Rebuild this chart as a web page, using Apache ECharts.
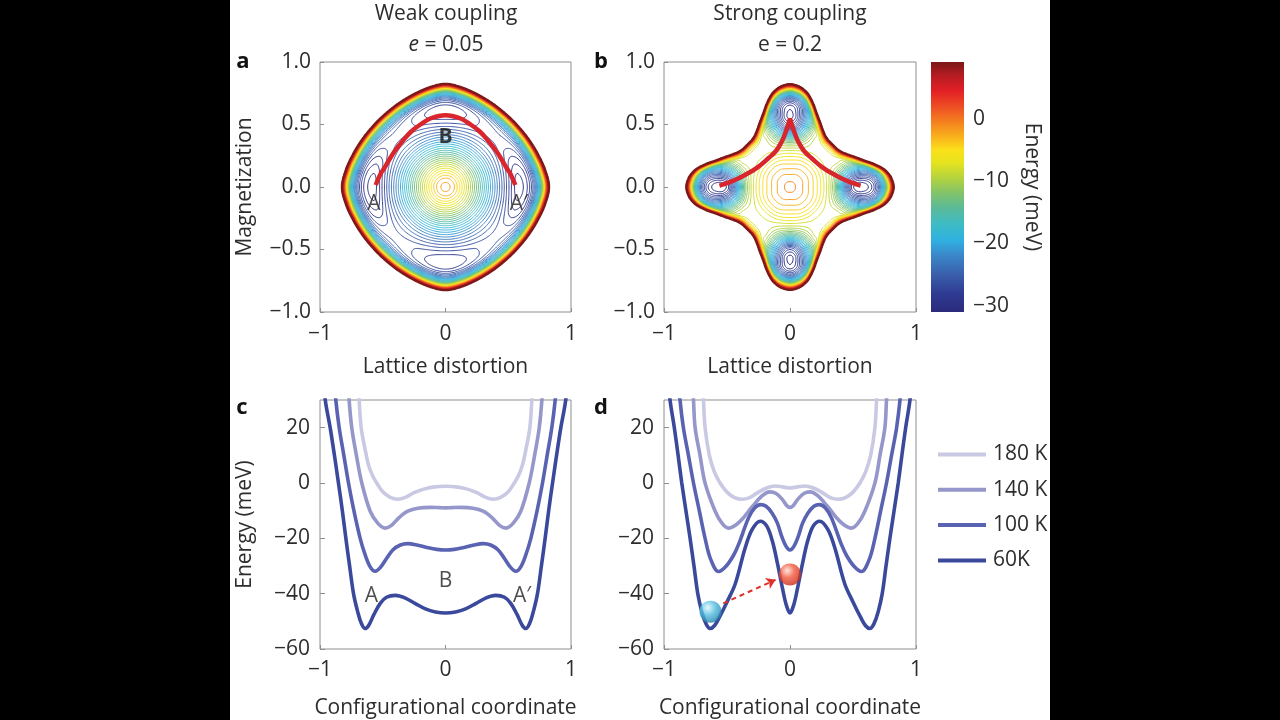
<!DOCTYPE html>
<html><head><meta charset="utf-8">
<script src="https://cdn.jsdelivr.net/npm/echarts@6/dist/echarts.min.js"></script>
<style>
html,body{margin:0;padding:0;background:#000;}
#wrap{position:relative;width:1280px;height:720px;background:#000;overflow:hidden;}
#paper{position:absolute;left:230px;top:0;width:820px;height:720px;background:#fff;}
#chart{position:absolute;left:0;top:0;width:1280px;height:720px;}
</style></head><body>
<div id="wrap"><div id="paper"></div><div id="chart"></div></div>
<script>
// ---------------- DATA ----------------
// colour scale (Energy, meV)
const cmapValues = [-31, -28, -25, -22, -19.5, -17, -14.5, -12, -9.5, -7, -5, -3, -0.5, 2, 4.5, 7, 9.1];
const cmapColors = ['#2b2a7c','#2f3b92','#3a5fab','#3b86c8','#2fb0e0','#3dbcc6','#58ba9c','#80c36c','#b5d33e','#e6e41e','#fbe01a','#f9b31b','#f4801f','#ee4d24','#e21f26','#b41c22','#7a1818'];
const colorbarMin = -31, colorbarMax = 9.1;
const colorbarTicks = [-30, -20, -10, 0];
const contourLevels = [-30,-29,-28,-27,-26,-25,-24,-23,-22,-21,-20,-19,-18,-17,-16,-15,-14,-13,-12,-11,-10,-9,-8,-7,-6,-5,-4,-3,-2,-1,0,1,2,3,4,5,6,7,8,9];
// energy on the outer edge of both maps, and how the energy blends into it (relative radius -> weight)
const edgeEnergy = 9.3, edgeSlope = 150;
const edgeBlendS = [0.78, 0.84, 0.9, 0.95, 1.0];
const edgeBlendG = [0, 0.08, 0.3, 0.62, 1];

// Panel a (weak coupling): outer edge radius vs angle from nearest axis (deg)
const aEdgeAngles = [0, 10, 20, 30, 40, 45];
const aEdgeRadius = [0.827, 0.807, 0.783, 0.767, 0.758, 0.757];
// energy along lattice-distortion axis (through A, A')
const aAxisQr = [0, 0.05, 0.1, 0.15, 0.2, 0.25, 0.3, 0.35, 0.4, 0.45, 0.5, 0.55, 0.58, 0.62, 0.67, 0.72, 0.78, 0.85, 1.0, 1.5];
const aAxisQe = [-1.5, -2.3, -4.3, -7, -10, -13.2, -16.4, -19.5, -22.3, -25, -27.7, -30, -30.6, -30, -28.3, -26, -23, -20, -15, 0];
// energy along magnetization axis (through B)
const aAxisMr = [0, 0.05, 0.1, 0.15, 0.2, 0.25, 0.3, 0.35, 0.4, 0.45, 0.5, 0.55, 0.6, 0.65, 0.7, 0.76, 0.85, 1.0, 1.5];
const aAxisMe = [-1.5, -2.3, -4.3, -7, -10, -13.2, -16.4, -19.3, -22, -24.5, -26.6, -28.2, -28.8, -28.2, -26.5, -24, -20, -15, 0];
// energy along the diagonal
const aDiagR = [0, 0.05, 0.1, 0.15, 0.2, 0.25, 0.3, 0.35, 0.4, 0.45, 0.5, 0.55, 0.6, 0.65, 0.7, 0.8, 1.0, 1.5];
const aDiagE = [-1.5, -2.3, -4.3, -7, -10, -13.2, -16.4, -19.3, -22, -24, -25.5, -26.3, -26, -25, -23.5, -20, -15, 0];
const aWeightPower = 2;

// Panel b (strong coupling)
const bEdgeAngles = [0, 5, 10, 15, 20, 25, 30, 35, 40, 45];
const bEdgeRadius = [0.825, 0.81, 0.77, 0.70, 0.625, 0.57, 0.525, 0.495, 0.482, 0.48];
const bAxisQr = [0, 0.05, 0.1, 0.15, 0.2, 0.25, 0.3, 0.35, 0.4, 0.45, 0.5, 0.55, 0.6, 0.65, 0.7, 0.78, 0.9, 1.2];
const bAxisQe = [-0.6, -1.1, -2, -3.1, -4.5, -6.2, -8.5, -12, -18, -25, -29.8, -31, -30.5, -29, -26.5, -22, -15, 0];
const bAxisMr = [0, 0.05, 0.1, 0.15, 0.2, 0.25, 0.3, 0.35, 0.4, 0.45, 0.5, 0.57, 0.62, 0.67, 0.72, 0.8, 0.9, 1.2];
const bAxisMe = [-0.6, -1.1, -2, -3.1, -4.5, -6.2, -8.4, -11.5, -16.8, -23, -28, -30.4, -30, -28.5, -26, -21.5, -15, 0];
const bDiagR = [0, 0.05, 0.1, 0.15, 0.2, 0.25, 0.3, 0.35, 0.42, 0.5, 0.6, 1.2];
const bDiagE = [-0.6, -1.05, -1.8, -2.8, -4, -5.8, -7.6, -8.2, -7.4, -5.5, -4, 0];
const bWeightPower = 4;

// red minimum-energy paths
const pathA = [[-0.556,0.016],[-0.52,0.1],[-0.488,0.15],[-0.45,0.215],[-0.408,0.282],[-0.34,0.37],[-0.275,0.442],[-0.2,0.5],[-0.116,0.55],[0,0.575],[0.116,0.55],[0.2,0.5],[0.275,0.442],[0.34,0.37],[0.408,0.282],[0.45,0.215],[0.488,0.15],[0.52,0.1],[0.556,0.016]];
const pathBLeft = [[-0.56,0.01],[-0.542,0.016],[-0.45,0.05],[-0.357,0.096],[-0.26,0.155],[-0.172,0.23],[-0.11,0.29],[-0.066,0.362],[-0.045,0.41],[-0.02,0.48],[0,0.55]];
const pathBRight = [[0,0.55],[0.02,0.48],[0.045,0.41],[0.066,0.362],[0.11,0.29],[0.172,0.23],[0.26,0.155],[0.357,0.096],[0.45,0.05],[0.542,0.016],[0.56,0.01]];

const labelsATexts = ['A', 'A\u2032', 'B'];
const labelsAPos = [[-0.57,-0.14],[0.585,-0.14],[0,0.396]];
const labelsCTexts = ['A', 'B', 'A\u2032'];
const labelsCPos = [[-0.59,-40.7],[0,-35.5],[0.61,-40.7]];

// Energy profiles (meV) along configurational coordinate
const seriesNames = ['180 K', '140 K', '100 K', '60K'];
const curveColors = ['#c9c9e3', '#9596ca', '#5a63b2', '#3a499b'];
const c180 = [[-0.70,40],[-0.688,30],[-0.672,20],[-0.64,12],[-0.614,6.6],[-0.58,2.5],[-0.548,0],[-0.50,-3.2],[-0.44,-5.2],[-0.38,-5.9],[-0.32,-5.2],[-0.25,-3.5],[-0.18,-2.3],[-0.10,-1.5],[0,-1.2],[0.10,-1.5],[0.18,-2.3],[0.25,-3.5],[0.32,-5.2],[0.38,-5.9],[0.44,-5.2],[0.50,-3.2],[0.548,0],[0.58,2.5],[0.614,6.6],[0.64,12],[0.672,20],[0.688,30],[0.70,40]];
const c140 = [[-0.78,40],[-0.768,30],[-0.747,20],[-0.71,10],[-0.667,0],[-0.60,-10.2],[-0.54,-14.5],[-0.48,-16.3],[-0.43,-15.3],[-0.37,-12.5],[-0.30,-10.2],[-0.22,-9.1],[-0.12,-8.8],[-0.05,-8.9],[0,-9],[0.05,-8.9],[0.12,-8.8],[0.22,-9.1],[0.30,-10.2],[0.37,-12.5],[0.43,-15.3],[0.48,-16.3],[0.54,-14.5],[0.60,-10.2],[0.667,0],[0.71,10],[0.747,20],[0.768,30],[0.78,40]];
const c100 = [[-0.89,40],[-0.874,30],[-0.847,20],[-0.81,10],[-0.773,0],[-0.73,-10],[-0.68,-20],[-0.64,-26],[-0.60,-30.3],[-0.561,-31.9],[-0.52,-30.6],[-0.47,-27.3],[-0.42,-24.2],[-0.36,-22.4],[-0.30,-21.9],[-0.22,-22.5],[-0.14,-23.4],[-0.07,-24],[0,-24.2],[0.07,-24],[0.14,-23.4],[0.22,-22.5],[0.30,-21.9],[0.36,-22.4],[0.42,-24.2],[0.47,-27.3],[0.52,-30.6],[0.561,-31.9],[0.60,-30.3],[0.64,-26],[0.68,-20],[0.73,-10],[0.773,0],[0.81,10],[0.847,20],[0.874,30],[0.89,40]];
const c60 = [[-0.975,40],[-0.958,30],[-0.919,20],[-0.885,10],[-0.853,0],[-0.822,-10],[-0.794,-20],[-0.764,-30],[-0.733,-40],[-0.70,-46.5],[-0.67,-50.8],[-0.64,-52.6],[-0.61,-51.3],[-0.57,-47.5],[-0.52,-43.5],[-0.47,-41.3],[-0.40,-40.6],[-0.32,-41.6],[-0.24,-43.6],[-0.16,-45.5],[-0.08,-46.6],[0,-47],[0.08,-46.6],[0.16,-45.5],[0.24,-43.6],[0.32,-41.6],[0.40,-40.6],[0.47,-41.3],[0.52,-43.5],[0.57,-47.5],[0.61,-51.3],[0.64,-52.6],[0.67,-50.8],[0.70,-46.5],[0.733,-40],[0.764,-30],[0.794,-20],[0.822,-10],[0.853,0],[0.885,10],[0.919,20],[0.958,30],[0.975,40]];
const d180 = [[-0.70,40],[-0.687,30],[-0.674,20],[-0.64,10],[-0.60,4],[-0.555,0],[-0.50,-3.3],[-0.44,-5.3],[-0.38,-5.9],[-0.32,-5.3],[-0.25,-3.3],[-0.18,-1.7],[-0.12,-1.1],[-0.06,-1.4],[0,-1.8],[0.06,-1.4],[0.12,-1.1],[0.18,-1.7],[0.25,-3.3],[0.32,-5.3],[0.38,-5.9],[0.44,-5.3],[0.50,-3.3],[0.555,0],[0.60,4],[0.64,10],[0.674,20],[0.687,30],[0.70,40]];
const d140 = [[-0.78,40],[-0.766,30],[-0.753,20],[-0.714,10],[-0.674,0],[-0.594,-10.2],[-0.54,-14.5],[-0.488,-16.3],[-0.43,-15.2],[-0.37,-12.6],[-0.30,-8.6],[-0.22,-4.6],[-0.16,-3.2],[-0.11,-3.8],[-0.06,-6],[-0.025,-8.2],[0,-8.8],[0.025,-8.2],[0.06,-6],[0.11,-3.8],[0.16,-3.2],[0.22,-4.6],[0.30,-8.6],[0.37,-12.6],[0.43,-15.2],[0.488,-16.3],[0.54,-14.5],[0.594,-10.2],[0.674,0],[0.714,10],[0.753,20],[0.766,30],[0.78,40]];
const d100 = [[-0.89,40],[-0.873,30],[-0.846,20],[-0.806,10],[-0.766,0],[-0.72,-10],[-0.674,-20],[-0.63,-27.5],[-0.567,-32],[-0.51,-30.2],[-0.45,-26.3],[-0.408,-22.2],[-0.329,-12.6],[-0.28,-9],[-0.235,-7.8],[-0.19,-8.4],[-0.143,-10.8],[-0.10,-14.5],[-0.064,-19.5],[-0.03,-23],[0,-24.2],[0.03,-23],[0.064,-19.5],[0.10,-14.5],[0.143,-10.8],[0.19,-8.4],[0.235,-7.8],[0.28,-9],[0.329,-12.6],[0.408,-22.2],[0.45,-26.3],[0.51,-30.2],[0.567,-32],[0.63,-27.5],[0.674,-20],[0.72,-10],[0.766,0],[0.806,10],[0.846,20],[0.873,30],[0.89,40]];
const d60 = [[-0.97,40],[-0.952,30],[-0.918,20],[-0.888,10],[-0.859,0],[-0.826,-10],[-0.793,-20],[-0.762,-30],[-0.732,-40],[-0.70,-46.5],[-0.665,-51],[-0.634,-52.6],[-0.60,-51.6],[-0.56,-48.5],[-0.50,-43],[-0.435,-36.5],[-0.356,-23.5],[-0.30,-16.8],[-0.236,-13.8],[-0.185,-15.5],[-0.14,-21],[-0.10,-29],[-0.06,-38],[-0.03,-44],[0,-47],[0.03,-44],[0.06,-38],[0.10,-29],[0.14,-21],[0.185,-15.5],[0.236,-13.8],[0.30,-16.8],[0.356,-23.5],[0.435,-36.5],[0.50,-43],[0.56,-48.5],[0.60,-51.6],[0.634,-52.6],[0.665,-51],[0.70,-46.5],[0.732,-40],[0.762,-30],[0.793,-20],[0.826,-10],[0.859,0],[0.888,10],[0.918,20],[0.952,30],[0.97,40]];

const ballBlue = [-0.631, -46.5];
const ballRed = [0, -33.1];
const arrowCoords = [[-0.53, -43.5], [-0.115, -35]];

// ---------------- HELPERS ----------------
const FONT = "'Open Sans', 'Noto Sans', sans-serif";
const TXT = '#2d2d2d';
const FRAME = '#8e8e8e';

function hex2rgb(h){ return [parseInt(h.substr(1,2),16), parseInt(h.substr(3,2),16), parseInt(h.substr(5,2),16)]; }
function colorAt(v){
  if (v <= cmapValues[0]) return cmapColors[0];
  const n = cmapValues.length;
  if (v >= cmapValues[n-1]) return cmapColors[n-1];
  let i = 0; while (cmapValues[i+1] < v) i++;
  const t = (v - cmapValues[i]) / (cmapValues[i+1] - cmapValues[i]);
  const a = hex2rgb(cmapColors[i]), b = hex2rgb(cmapColors[i+1]);
  return 'rgb(' + a.map((x,k)=>Math.round(x + (b[k]-x)*t)).join(',') + ')';
}
function monotone(xs, ys, flatEnd){
  const n = xs.length, d = [], m = [];
  for (let i=0;i<n-1;i++) d.push((ys[i+1]-ys[i])/(xs[i+1]-xs[i]));
  m[0] = 0; m[n-1] = flatEnd ? 0 : d[n-2];
  for (let i=1;i<n-1;i++){
    if (d[i-1]*d[i] <= 0) m[i] = 0;
    else { const h0=xs[i]-xs[i-1], h1=xs[i+1]-xs[i]; const w1=2*h1+h0, w2=h1+2*h0; m[i]=(w1+w2)/(w1/d[i-1]+w2/d[i]); }
  }
  return function(x){
    if (x <= xs[0]) return ys[0];
    if (x >= xs[n-1]) return flatEnd ? ys[n-1] : ys[n-1] + d[n-2]*(x-xs[n-1]);
    let lo=0, hi=n-1; while (hi-lo>1){ const mid=(lo+hi)>>1; if (xs[mid]<=x) lo=mid; else hi=mid; }
    const h=xs[hi]-xs[lo], t=(x-xs[lo])/h, t2=t*t, t3=t2*t;
    return (2*t3-3*t2+1)*ys[lo] + (t3-2*t2+t)*h*m[lo] + (-2*t3+3*t2)*ys[hi] + (t3-t2)*h*m[hi];
  };
}
const edgeBlend = monotone(edgeBlendS, edgeBlendG, true);
function buildField(edgeA, edgeR, qr, qe, mr, me, dr, de, pw){
  const edge = monotone(edgeA, edgeR, true);
  const fq = monotone(qr, qe), fm = monotone(mr, me), fd = monotone(dr, de);
  const n = 241, lo = -0.9, hi = 0.9, xs = [];
  for (let i=0;i<n;i++) xs.push(lo + (hi-lo)*i/(n-1));
  const V = new Float64Array(n*n);
  for (let j=0;j<n;j++) for (let i=0;i<n;i++){
    const q = xs[i], m = xs[j], r = Math.hypot(q, m);
    const th = Math.atan2(Math.abs(m), Math.abs(q));
    const phi = Math.min(th, Math.PI/2 - th) * 180 / Math.PI;
    const s = r / edge(phi);
    const c = Math.cos(2*th), w = Math.pow(Math.abs(c), pw);
    const ed = fd(r);
    const inner = c >= 0 ? ed + (fq(r) - ed)*w : ed + (fm(r) - ed)*w;
    const g = Math.min(1, Math.max(0, edgeBlend(s)));
    const outer = edgeEnergy + edgeSlope*(s - 1);
    V[j*n+i] = inner + (outer - inner)*g;
  }
  return {xs, V, n};
}
function contourData(field){
  const {xs, V, n} = field; const K = n*n*2;
  const PX = new Float64Array(K), PY = new Float64Array(K), A1 = new Int32Array(K), A2 = new Int32Array(K);
  const out = [];
  for (const L of contourLevels){
    A1.fill(-1); A2.fill(-1);
    const segs = [];
    const link = (k,s)=>{ if (A1[k]<0) A1[k]=s; else A2[k]=s; };
    const add = (k1,k2)=>{ const s = segs.length>>1; segs.push(k1,k2); link(k1,s); link(k2,s); };
    for (let j=0;j<n-1;j++) for (let i=0;i<n-1;i++){
      const a=V[j*n+i], b=V[j*n+i+1], c=V[(j+1)*n+i+1], d=V[(j+1)*n+i];
      const idx=(a>L?1:0)|(b>L?2:0)|(c>L?4:0)|(d>L?8:0);
      if (idx===0 || idx===15) continue;
      const x0=xs[i], x1=xs[i+1], y0=xs[j], y1=xs[j+1];
      const kB=(j*n+i)*2, kT=((j+1)*n+i)*2, kL=(j*n+i)*2+1, kR=(j*n+i+1)*2+1;
      if ((a>L)!==(b>L)){ PX[kB]=x0+(L-a)/(b-a)*(x1-x0); PY[kB]=y0; }
      if ((d>L)!==(c>L)){ PX[kT]=x0+(L-d)/(c-d)*(x1-x0); PY[kT]=y1; }
      if ((a>L)!==(d>L)){ PX[kL]=x0; PY[kL]=y0+(L-a)/(d-a)*(y1-y0); }
      if ((b>L)!==(c>L)){ PX[kR]=x1; PY[kR]=y0+(L-b)/(c-b)*(y1-y0); }
      switch(idx){
        case 1: case 14: add(kL,kB); break;
        case 2: case 13: add(kB,kR); break;
        case 3: case 12: add(kL,kR); break;
        case 4: case 11: add(kR,kT); break;
        case 6: case 9: add(kB,kT); break;
        case 7: case 8: add(kL,kT); break;
        case 5: { const ct=(a+b+c+d)/4; if (ct>L){ add(kL,kT); add(kB,kR); } else { add(kL,kB); add(kR,kT); } break; }
        case 10: { const ct=(a+b+c+d)/4; if (ct>L){ add(kL,kB); add(kR,kT); } else { add(kB,kR); add(kL,kT); } break; }
      }
    }
    const nS = segs.length>>1, used = new Uint8Array(nS);
    const col = colorAt(L);
    const wid = L >= 9 ? 2.2 : (L >= 7 ? 1.5 : 1);
    for (let s0=0;s0<nS;s0++){
      if (used[s0]) continue; used[s0]=1;
      const fwd=[segs[2*s0], segs[2*s0+1]];
      let key=segs[2*s0+1], s=s0;
      for(;;){ const ns = A1[key]===s ? A2[key] : A1[key]; if (ns<0 || used[ns]) break; used[ns]=1; key = segs[2*ns]===key ? segs[2*ns+1] : segs[2*ns]; fwd.push(key); s=ns; }
      const back=[]; key=segs[2*s0]; s=s0;
      for(;;){ const ns = A1[key]===s ? A2[key] : A1[key]; if (ns<0 || used[ns]) break; used[ns]=1; key = segs[2*ns]===key ? segs[2*ns+1] : segs[2*ns]; back.push(key); s=ns; }
      const keys = back.reverse().concat(fwd);
      out.push({coords: keys.map(k=>[PX[k], PY[k]]), lineStyle: {color: col, width: wid}});
    }
  }
  return out;
}

const fieldA = buildField(aEdgeAngles, aEdgeRadius, aAxisQr, aAxisQe, aAxisMr, aAxisMe, aDiagR, aDiagE, aWeightPower);
const fieldB = buildField(bEdgeAngles, bEdgeRadius, bAxisQr, bAxisQe, bAxisMr, bAxisMe, bDiagR, bDiagE, bWeightPower);
const contoursA = contourData(fieldA);
const contoursB = contourData(fieldB);

const minus = v => (v < 0 ? '\u2212' : '') + Math.abs(v);
const lbl = {fontFamily: FONT, fontSize: 21, color: TXT};
function xAx(gi, name, gap, margin){
  return {gridIndex: gi, type:'value', min:-1, max:1, interval:1,
    axisLine:{show:false, onZero:false}, splitLine:{show:false},
    axisTick:{show:true, inside:true, length:4, lineStyle:{color:FRAME}},
    axisLabel:Object.assign({margin:margin, formatter: minus}, lbl),
    name: name, nameLocation:'middle', nameGap: gap, nameTextStyle: lbl};
}
function yAxAB(gi, name){
  return {gridIndex: gi, type:'value', min:-1, max:1, interval:0.5,
    axisLine:{show:false, onZero:false}, splitLine:{show:false},
    axisTick:{show:true, inside:true, length:4, lineStyle:{color:FRAME}},
    axisLabel:Object.assign({margin:9, formatter: v => (v<0?'\u2212':'') + Math.abs(v).toFixed(1)}, lbl),
    name: name, nameLocation:'middle', nameGap: 64, nameRotate: 90, nameTextStyle: lbl};
}
function yAxCD(gi, name){
  return {gridIndex: gi, type:'value', min:-60, max:30,
    axisLine:{show:false, onZero:false}, splitLine:{show:false},
    axisTick:{show:true, inside:true, length:5, lineStyle:{color:FRAME}, customValues:[-60,-40,-20,0,20]},
    axisLabel:Object.assign({margin:10, formatter: minus, customValues:[-60,-40,-20,0,20]}, lbl),
    name: name, nameLocation:'middle', nameGap: 64, nameRotate: 90, nameTextStyle: lbl};
}
const gridStyle = {show:true, borderColor:FRAME, borderWidth:1, backgroundColor:'transparent'};

const cbStops = cmapValues.map((v,i)=>({offset:(colorbarMax - v)/(colorbarMax - colorbarMin), color:cmapColors[i]})).reverse();

const curveSets = [[c180, c140, c100, c60], [d180, d140, d100, d60]];
const curveSeries = [];
curveSets.forEach((set, k)=>{
  set.forEach((data, i)=>{
    curveSeries.push({type:'line', name: seriesNames[i], xAxisIndex: 3+k, yAxisIndex: 3+k, data: data,
      smooth: 0.35, symbol:'none', clip:true, z: 3+i,
      lineStyle:{color: curveColors[i], width: 3.6}, itemStyle:{color: curveColors[i]}});
  });
});

function textSeries(xi, texts, pos, size){
  return {type:'scatter', xAxisIndex:xi, yAxisIndex:xi, symbolSize:0, silent:true, z:8,
    data: texts.map((t,i)=>({name:t, value:pos[i], label:{fontWeight: t==='B' && xi===0 ? 'bold':'normal', color: t==='B' && xi===0 ? '#111' : '#222'}})),
    label:{show:true, position:'inside', formatter:'{b}', fontFamily:FONT, fontSize:size, color:'#222'}};
}
function ball(c0, c1, c2){
  return {type:'radial', x:0.38, y:0.32, r:0.72, colorStops:[{offset:0,color:c0},{offset:0.45,color:c1},{offset:1,color:c2}]};
}

const option = {
  animation:false,
  textStyle:{fontFamily:FONT},
  grid:[
    Object.assign({left:320, top:62, width:251, height:250}, gridStyle),
    Object.assign({left:664, top:62, width:252, height:250}, gridStyle),
    {left:931, top:62, width:33, height:250, show:false},
    Object.assign({left:320, top:400, width:251, height:249}, gridStyle),
    Object.assign({left:664, top:400, width:252, height:249}, gridStyle)
  ],
  xAxis:[
    xAx(0, 'Lattice distortion', 45, 12),
    xAx(1, 'Lattice distortion', 45, 12),
    {gridIndex:2, type:'value', min:0, max:1, show:false},
    xAx(3, 'Configurational coordinate', 49, 11),
    xAx(4, 'Configurational coordinate', 49, 11)
  ],
  yAxis:[
    yAxAB(0, 'Magnetization'),
    yAxAB(1, ''),
    {gridIndex:2, type:'value', position:'right', min:colorbarMin, max:colorbarMax,
      axisLine:{show:false, onZero:false}, splitLine:{show:false},
      axisTick:{show:true, inside:true, length:5, lineStyle:{color:'#333'}, customValues: colorbarTicks},
      axisLabel:Object.assign({margin:9, formatter: minus, customValues: colorbarTicks}, lbl),
      name:'Energy (meV)', nameLocation:'middle', nameGap:57, nameRotate:-90, nameTextStyle: lbl},
    yAxCD(3, 'Energy (meV)'),
    yAxCD(4, '')
  ],
  legend:{data: seriesNames, orient:'vertical', left:933, top:439, itemWidth:48, itemHeight:4, itemGap:14.3,
    icon:'rect', selectedMode:false,
    textStyle:{fontFamily:FONT, fontSize:21, color:TXT, lineHeight:21, padding:[0,0,0,2]}},
  graphic:[
    {type:'text', x:446, y:14, style:{text:'Weak coupling', font:"21px 'Open Sans'", fill:TXT, textAlign:'center', textVerticalAlign:'middle'}},
    {type:'text', x:446, y:45, style:{text:'{i|e} = 0.05', font:"21px 'Open Sans'", fill:TXT, textAlign:'center', textVerticalAlign:'middle', rich:{i:{fontStyle:'italic', fontSize:21, fontFamily:FONT, fill:TXT}}}},
    {type:'text', x:790, y:14, style:{text:'Strong coupling', font:"21px 'Open Sans'", fill:TXT, textAlign:'center', textVerticalAlign:'middle'}},
    {type:'text', x:790, y:45, style:{text:'e = 0.2', font:"21px 'Open Sans'", fill:TXT, textAlign:'center', textVerticalAlign:'middle'}},
    {type:'text', x:243, y:62, style:{text:'a', font:"bold 22px 'Open Sans'", fill:'#111', textAlign:'center', textVerticalAlign:'middle'}},
    {type:'text', x:601, y:62, style:{text:'b', font:"bold 22px 'Open Sans'", fill:'#111', textAlign:'center', textVerticalAlign:'middle'}},
    {type:'text', x:242, y:408, style:{text:'c', font:"bold 22px 'Open Sans'", fill:'#111', textAlign:'center', textVerticalAlign:'middle'}},
    {type:'text', x:601, y:408, style:{text:'d', font:"bold 22px 'Open Sans'", fill:'#111', textAlign:'center', textVerticalAlign:'middle'}}
  ],
  series:[
    {type:'lines', coordinateSystem:'cartesian2d', xAxisIndex:0, yAxisIndex:0, polyline:true, silent:true, z:2,
      lineStyle:{width:1, opacity:1}, data: contoursA},
    {type:'lines', coordinateSystem:'cartesian2d', xAxisIndex:1, yAxisIndex:1, polyline:true, silent:true, z:2,
      lineStyle:{width:1, opacity:1}, data: contoursB},
    {type:'custom', xAxisIndex:2, yAxisIndex:2, silent:true, data:[[0, colorbarMin, colorbarMax]],
      renderItem:(params, api)=>{
        const p0 = api.coord([0, api.value(2)]), p1 = api.coord([1, api.value(1)]);
        return {type:'rect', shape:{x:p0[0], y:p0[1], width:p1[0]-p0[0], height:p1[1]-p0[1]},
          style:{fill:{type:'linear', x:0, y:0, x2:0, y2:1, colorStops: cbStops}}};
      }},
    {type:'line', xAxisIndex:0, yAxisIndex:0, data: pathA, smooth:0.4, symbol:'none', z:6, silent:true,
      lineStyle:{color:'#d8262c', width:4.5}},
    {type:'line', xAxisIndex:1, yAxisIndex:1, data: pathBLeft, smooth:0.4, symbol:'none', z:6, silent:true,
      lineStyle:{color:'#d8262c', width:4.5}},
    {type:'line', xAxisIndex:1, yAxisIndex:1, data: pathBRight, smooth:0.4, symbol:'none', z:6, silent:true,
      lineStyle:{color:'#d8262c', width:4.5}},
    textSeries(0, labelsATexts, labelsAPos, 21),
    textSeries(3, labelsCTexts, labelsCPos, 21),
    ...curveSeries,
    {type:'lines', coordinateSystem:'cartesian2d', xAxisIndex:4, yAxisIndex:4, silent:true, z:9,
      symbol:['none','arrow'], symbolSize:9,
      lineStyle:{color:'#e0302a', width:2, type:[5,4], opacity:1},
      data:[{coords: arrowCoords}]},
    {type:'scatter', xAxisIndex:4, yAxisIndex:4, silent:true, z:10, symbolSize:22,
      data:[{value: ballBlue, itemStyle:{color: ball('#e4f7fd','#55c0e2','#1f7ca8')}},
            {value: ballRed, itemStyle:{color: ball('#ffe0d6','#f2583c','#c32815')}}]}
  ]
};
const chart = echarts.init(document.getElementById('chart'), null, {renderer:'canvas'});
chart.setOption(option);
</script></body></html>
